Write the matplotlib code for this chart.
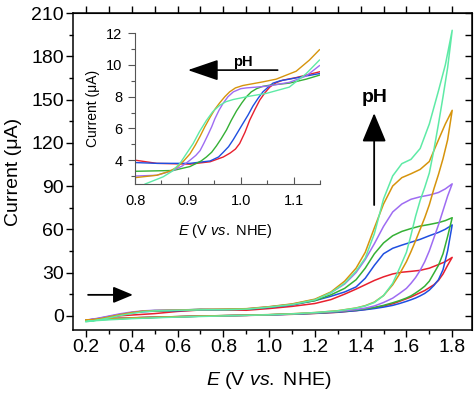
"""CV curves at several pH values with an inset zoom of the pre-wave region"""

import matplotlib

matplotlib.use("Agg")
import matplotlib.pyplot as plt
from matplotlib.ticker import FormatStrFormatter, MultipleLocator

plt.rcParams["font.family"] = ["Liberation Sans", "DejaVu Sans"]
plt.rcParams["mathtext.fontset"] = "custom"
plt.rcParams["mathtext.rm"] = "Liberation Sans"
plt.rcParams["mathtext.it"] = "Liberation Sans:italic"

# ---- main CV data: forward scan (0.2 -> 1.8 V) and reverse scan (1.8 -> 0.2 V) ----
E_FWD = [0.2, 0.25, 0.3, 0.35, 0.4, 0.45, 0.5, 0.6, 0.7, 0.8, 0.9, 1.0, 1.1, 1.2,
         1.27, 1.33, 1.38, 1.42, 1.46, 1.5, 1.54, 1.58, 1.62, 1.66, 1.7, 1.74, 1.77, 1.8]
E_REV = [1.8, 1.78, 1.76, 1.74, 1.72, 1.7, 1.68, 1.66, 1.64, 1.62, 1.6, 1.57, 1.54, 1.5,
         1.46, 1.42, 1.38, 1.3, 1.2, 1.1, 1.0, 0.9, 0.8, 0.7, 0.6, 0.5, 0.4, 0.3, 0.2]

COLORS = ["#e8202e", "#1f4fe0", "#35b035", "#9e6cf2", "#d6940c", "#5eeaa6"]

I_FWD = [
    # red
    [-3.0, -2.2, -1.2, 0.0, 0.5, 1.0, 1.5, 3.0, 4.0, 4.2, 3.8, 5.0, 6.5, 8.5,
     11.2, 15, 18.5, 21.5, 24.5, 27, 29, 30.2, 30.8, 31.5, 33, 35.5, 37.5, 40.5],
    # blue
    [-3.2, -2.0, -0.5, 1.0, 2.0, 2.8, 3.2, 3.5, 4.0, 4.3, 4.5, 5.8, 7.5, 10.5,
     13.5, 16.5, 20, 26, 35, 43, 46.8, 49, 51, 53, 55.5, 57.8, 60, 63],
    # green
    [-3.8, -2.8, -1.0, 0.8, 2.2, 3.2, 3.6, 3.8, 4.5, 4.2, 4.6, 6.0, 7.8, 10.5,
     14.5, 19, 25, 33, 43, 50.5, 55.5, 58.5, 60.5, 62.2, 63.3, 64.6, 66, 68],
    # purple
    [-3.0, -1.8, -0.2, 1.4, 2.6, 3.4, 3.8, 4.0, 4.4, 4.4, 4.8, 6.2, 8.0, 11.2,
     16, 22, 30, 39, 50, 62, 72, 77.5, 80.8, 82.5, 83.7, 85.5, 88, 91.5],
    # orange
    [-3.2, -2.4, -0.8, 0.8, 2.2, 3.2, 3.5, 3.9, 4.3, 4.6, 4.9, 6.3, 8.2, 11.5,
     16.5, 24, 33, 44, 61, 77.5, 90, 95.8, 98.5, 101.5, 107, 122, 133, 142.5],
    # aquamarine
    [-4.2, -3.0, -1.5, 0.2, 1.6, 2.8, 3.4, 3.8, 4.1, 4.3, 4.6, 6.0, 7.8, 11.0,
     16, 22.5, 31, 40, 57, 81, 97, 105.5, 108.5, 116, 133, 156, 174, 198],
]

I_REV = [
    # red
    [40.5, 35, 29, 24.5, 21.5, 19.5, 17.5, 16, 14.5, 13, 11.8, 10, 8.3, 6.8,
     5.5, 4.4, 3.6, 2.4, 1.6, 1.0, 0.6, 0.2, 0.0, -0.3, -0.6, -1.0, -1.4, -2.0, -3.0],
    # blue
    [63, 45, 32, 25, 21, 17.8, 15.5, 13.8, 12.3, 11.1, 10, 8.5, 7.2, 6,
     5, 4.2, 3.5, 2.5, 1.7, 1.1, 0.6, 0.3, 0.0, -0.3, -0.7, -1.1, -1.5, -2.2, -3.2],
    # green
    [68, 55, 43, 35, 29.5, 24, 20.5, 18, 15.8, 13.8, 12.3, 10.5, 9, 7.2,
     5.8, 4.8, 4.0, 2.8, 1.8, 1.2, 0.7, 0.3, 0.1, -0.3, -0.7, -1.2, -1.7, -2.4, -3.5],
    # purple
    [91.5, 83, 73, 63, 54, 45, 37.5, 31.5, 26.5, 22.5, 19, 15.5, 12.2, 9.2,
     6.8, 5.3, 4.3, 3.0, 1.9, 1.2, 0.7, 0.4, 0.1, -0.2, -0.6, -1.0, -1.5, -2.1, -3.0],
    # orange
    [142.5, 122, 109, 98, 88, 77, 68, 60, 52, 44.5, 37.5, 29, 21.5, 14,
     9.5, 7, 5.4, 3.5, 2.2, 1.4, 0.8, 0.4, 0.1, -0.2, -0.6, -1.0, -1.5, -2.1, -3.0],
    # aquamarine
    [198, 172, 152, 133, 115, 99, 89, 80, 69, 56, 44, 33, 22.5, 14,
     9.2, 6.8, 5.3, 3.4, 2.2, 1.3, 0.7, 0.3, -0.1, -0.5, -0.9, -1.4, -2.0, -2.8, -3.8],
]

# ---- inset data (pre-wave region) ----
INSET_E = [
    [0.8, 0.841, 0.904, 0.942, 0.967, 0.98, 0.99, 0.998, 1.008, 1.017, 1.027, 1.036,
     1.046, 1.055, 1.067, 1.08, 1.105, 1.149],
    [0.8, 0.841, 0.904, 0.942, 0.958, 0.967, 0.977, 0.986, 0.995, 1.004, 1.014, 1.023,
     1.033, 1.042, 1.052, 1.061, 1.075, 1.092, 1.124, 1.149],
    [0.8, 0.872, 0.904, 0.925, 0.935, 0.945, 0.954, 0.963, 0.973, 0.982, 0.992, 1.002,
     1.011, 1.02, 1.03, 1.042, 1.055, 1.092, 1.124, 1.149],
    [0.8, 0.841, 0.872, 0.89, 0.904, 0.915, 0.923, 0.93, 0.938, 0.945, 0.951, 0.959,
     0.967, 0.976, 0.986, 1.0, 1.011, 1.048, 1.092, 1.124, 1.149],
    [0.8, 0.841, 0.865, 0.879, 0.892, 0.904, 0.914, 0.923, 0.932, 0.942, 0.951, 0.96,
     0.97, 0.979, 0.99, 1.004, 1.042, 1.067, 1.105, 1.13, 1.149],
    [0.819, 0.853, 0.87, 0.885, 0.897, 0.91, 0.922, 0.935, 0.947, 0.96, 0.972, 0.986,
     1.017, 1.048, 1.092, 1.124, 1.149],
]
INSET_I = [
    [4.0, 3.8, 3.75, 3.9, 4.2, 4.45, 4.7, 5.05, 5.75, 6.52, 7.2, 7.78,
     8.25, 8.6, 8.88, 9.04, 9.2, 9.56],
    [3.85, 3.8, 3.8, 3.95, 4.2, 4.5, 4.85, 5.3, 5.8, 6.3, 6.85, 7.4,
     7.9, 8.3, 8.6, 8.85, 9.0, 9.1, 9.3, 9.45],
    [3.3, 3.35, 3.6, 3.95, 4.2, 4.5, 4.9, 5.35, 5.9, 6.5, 7.1, 7.6,
     8.0, 8.3, 8.5, 8.65, 8.72, 8.85, 9.1, 9.35],
    [3.0, 3.05, 3.35, 3.65, 4.0, 4.3, 4.6, 5.05, 5.6, 6.1, 6.6, 7.15,
     7.6, 8.0, 8.3, 8.5, 8.55, 8.65, 8.9, 9.3, 9.95],
    [2.9, 3.05, 3.3, 3.55, 3.95, 4.4, 4.95, 5.5, 6.1, 6.7, 7.2, 7.6,
     8.0, 8.3, 8.55, 8.7, 8.93, 9.1, 9.6, 10.3, 10.95],
    [2.5, 2.95, 3.3, 3.8, 4.4, 5.05, 5.8, 6.5, 7.05, 7.45, 7.68, 7.82,
     8.03, 8.2, 8.6, 9.45, 10.3],
]

fig = plt.figure(figsize=(4.74, 3.94), dpi=100)
ax = fig.add_axes([0.154, 0.162, 0.842, 0.805])

for color, i_f, i_r in zip(COLORS, I_FWD, I_REV):
    ax.plot(E_FWD + E_REV, i_f + i_r, color=color, lw=1.1)

ax.set_xlim(0.143, 1.887)
ax.set_ylim(-10, 210)
ax.xaxis.set_major_locator(MultipleLocator(0.2))
ax.xaxis.set_minor_locator(MultipleLocator(0.1))
ax.xaxis.set_major_formatter(FormatStrFormatter("%.1f"))
ax.yaxis.set_major_locator(MultipleLocator(30))
ax.yaxis.set_minor_locator(MultipleLocator(15))
ax.tick_params(which="both", direction="out", width=1.0, labelsize=14, pad=1.5)
ax.tick_params(which="major", length=5)
ax.tick_params(which="minor", length=3)
for sp in ax.spines.values():
    sp.set_linewidth(1.1)

# top ticks outward, right ticks inward, no labels
top = ax.secondary_xaxis("top")
top.xaxis.set_major_locator(MultipleLocator(0.1))
top.tick_params(direction="out", length=5, width=1.0, labeltop=False)
right = ax.secondary_yaxis("right")
right.yaxis.set_major_locator(MultipleLocator(15))
right.tick_params(direction="in", length=5, width=1.0, labelright=False)

ax.set_ylabel("Current (μA)", fontsize=14)
ax.yaxis.set_label_coords(-0.128, 0.5)
ax.set_xlabel(r"$E$ (V $vs.$ NHE)", fontsize=14)
ax.xaxis.set_label_coords(0.49, -0.125)

# pH arrow and scan-direction arrow
ax.annotate("", xy=(1.459, 140.5), xytext=(1.459, 76.8),
            arrowprops=dict(arrowstyle="-|>,head_length=18,head_width=7.5",
                            mutation_scale=1, lw=1.3, color="black",
                            shrinkA=0, shrinkB=0))
ax.text(1.459, 151.5, "pH", fontsize=14, fontweight="bold", ha="center", va="center")
ax.annotate("", xy=(0.405, 14.5), xytext=(0.209, 14.5),
            arrowprops=dict(arrowstyle="-|>,head_length=12,head_width=5",
                            mutation_scale=1, lw=1.3, color="black",
                            shrinkA=0, shrinkB=0))

# ---- inset ----
ins = fig.add_axes([0.285, 0.533, 0.390, 0.383])
ins.patch.set_alpha(0)
for color, e, i in zip(COLORS, INSET_E, INSET_I):
    ins.plot(e, i, color=color, lw=1.0)
ins.set_xlim(0.8, 1.15)
ins.set_ylim(2.5, 12)
ins.spines["top"].set_visible(False)
ins.spines["right"].set_visible(False)
for sp in ("left", "bottom"):
    ins.spines[sp].set_linewidth(0.8)
    ins.spines[sp].set_color("#555555")
ins.xaxis.set_major_locator(MultipleLocator(0.1))
ins.xaxis.set_minor_locator(MultipleLocator(0.05))
ins.xaxis.set_major_formatter(FormatStrFormatter("%.1f"))
ins.yaxis.set_major_locator(MultipleLocator(2))
ins.yaxis.set_minor_locator(MultipleLocator(1))
ins.tick_params(axis="x", which="both", direction="in", pad=7, labelsize=10.5)
ins.tick_params(axis="y", which="both", direction="out", pad=4, labelsize=10.5)
ins.tick_params(which="major", length=5, width=0.8, color="#555555")
ins.tick_params(which="minor", length=3, width=0.8, color="#555555")
ins.set_ylabel("Current (μA)", fontsize=10)
ins.yaxis.set_label_coords(-0.19, 0.5)
ins.set_xlabel(r"$E$ (V $vs.$ NHE)", fontsize=10.5)
ins.xaxis.set_label_coords(0.49, -0.25)

ins.annotate("", xy=(0.9, 9.67), xytext=(1.07, 9.67),
             arrowprops=dict(arrowstyle="-|>,head_length=19,head_width=6.5",
                             mutation_scale=1, lw=1.2, color="black",
                             shrinkA=0, shrinkB=0))
ins.text(1.004, 10.2, "pH", fontsize=10.5, fontweight="bold", ha="center", va="center")

fig.savefig("out.png", dpi=100)
plt.close(fig)
